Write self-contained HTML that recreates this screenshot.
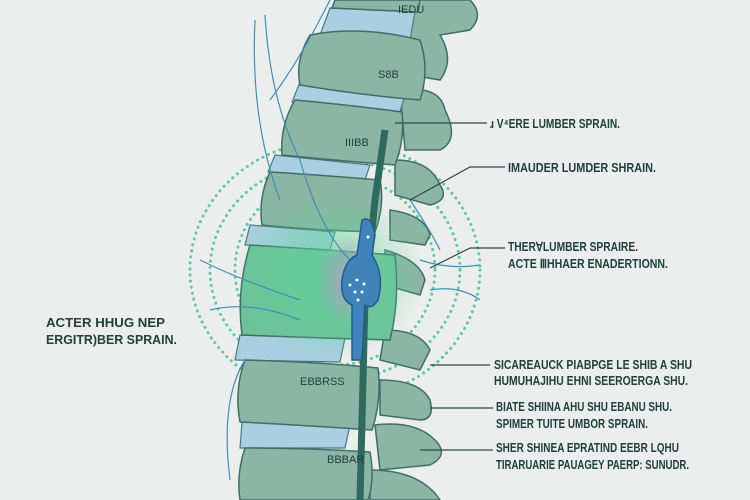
<!DOCTYPE html>
<html><head><style>
body{margin:0;background:#eceeed;}
svg{display:block;}
text{font-family:"Liberation Sans",sans-serif;font-size:12.5px;fill:#1f403c;font-weight:bold;}
</style></head><body>
<svg width="750" height="500" viewBox="0 0 750 500">
<rect width="750" height="500" fill="#eceeed"/>
<defs>
<radialGradient id="g" cx="0.5" cy="0.5" r="0.5"><stop offset="0" stop-color="#5fd39a" stop-opacity="0.8"/><stop offset="1" stop-color="#5fd39a" stop-opacity="0"/></radialGradient>
<radialGradient id="p" cx="0.5" cy="0.5" r="0.5"><stop offset="0" stop-color="#c98fd0" stop-opacity="0.8"/><stop offset="1" stop-color="#c98fd0" stop-opacity="0"/></radialGradient>
</defs>
<g fill="none" stroke="#5ec99a" stroke-width="3" stroke-dasharray="0.1 6" stroke-linecap="round">
<ellipse cx="335" cy="270" rx="125" ry="110"/>
<ellipse cx="335" cy="270" rx="100" ry="95"/>
<ellipse cx="335" cy="270" rx="145" ry="130"/>
</g>
<g fill="#8db5a5" stroke="#3f6e66" stroke-width="1.5">
<path d="M400 0 L470 0 Q485 15 470 30 L440 35 Q455 60 440 80 L410 75 Z"/>
<path d="M400 90 Q440 85 445 110 Q460 140 440 150 L405 150 Z"/>
<path d="M395 160 Q430 160 440 185 Q450 200 430 205 L395 195 Z"/>
<path d="M390 210 Q425 215 430 235 L425 245 L390 240 Z"/>
<path d="M385 250 Q420 260 425 280 L420 295 L385 285 Z"/>
<path d="M385 330 Q420 330 430 350 L420 370 L380 360 Z"/>
<path d="M380 380 Q420 380 430 400 Q435 420 420 420 L380 415 Z"/>
<path d="M375 425 Q415 420 435 440 Q450 455 430 465 L380 470 Z"/>
<path d="M370 470 Q420 470 440 500 L370 500 Z"/>
</g>
<g fill="#a9cfe0" stroke="#4b7a80" stroke-width="1.2">
<path d="M330 8 L415 12 L410 40 L320 35 Z"/>
<path d="M300 82 L405 95 L400 112 L292 102 Z"/>
<path d="M275 155 L370 165 L365 180 L268 172 Z"/>
<path d="M250 225 L335 232 L330 250 L245 245 Z"/>
<path d="M240 335 L345 338 L340 362 L235 360 Z"/>
<path d="M242 422 L350 425 L345 448 L240 448 Z"/>
</g>
<g fill="#8db5a5" stroke="#3f6e66" stroke-width="1.5">
<path d="M335 0 L420 0 L418 12 L332 8 Z"/>
<path d="M310 35 Q360 25 420 40 Q430 70 420 100 Q360 95 300 85 Q295 60 310 35 Z"/>
<path d="M295 100 Q350 105 402 112 Q405 140 395 165 Q330 160 282 155 Q280 125 295 100 Z"/>
<path d="M270 172 Q320 175 380 180 Q385 205 375 232 Q310 230 262 225 Q258 198 270 172 Z"/>
<path d="M250 245 Q330 250 395 255 Q400 300 390 340 Q320 338 242 335 Q236 290 250 245 Z" fill="#6ec29a"/>
<path d="M245 360 Q320 362 378 368 Q382 400 372 430 Q300 425 240 422 Q234 390 245 360 Z"/>
<path d="M245 448 Q310 448 370 452 Q375 480 368 500 L240 500 Q236 475 245 448 Z"/>
</g>
<ellipse cx="330" cy="275" rx="95" ry="85" fill="url(#g)"/>
<ellipse cx="350" cy="280" rx="35" ry="45" fill="url(#p)"/>
<path d="M385 130 L375 200 L365 300 L362 420 L360 500" stroke="#2e6b5e" stroke-width="7" fill="none"/>
<path d="M362 220 Q372 215 375 235 L372 255 Q385 275 378 300 Q372 310 365 305 L362 360 L352 360 L352 305 Q340 300 342 280 Q345 260 357 255 Z" fill="#3f83b8" stroke="#1f5c8c" stroke-width="1.5"/>
<g fill="#fff"><circle cx="350" cy="285" r="1.5"/><circle cx="357" cy="280" r="1.5"/><circle cx="364" cy="284" r="1.5"/><circle cx="355" cy="292" r="1.5"/><circle cx="362" cy="292" r="1.5"/><circle cx="358" cy="300" r="1.5"/><circle cx="368" cy="237" r="1.5"/></g>
<g fill="none" stroke="#3f8fb5" stroke-width="1.2">
<path d="M265 15 Q270 100 300 160 Q320 230 350 260"/>
<path d="M255 20 Q250 120 280 200"/>
<path d="M330 0 Q300 60 270 100"/>
<path d="M245 360 Q220 400 230 480"/>
<path d="M200 260 Q240 280 300 300"/>
<path d="M210 310 Q250 300 300 320"/>
<path d="M420 260 Q450 270 480 265"/>
<path d="M430 290 Q460 285 480 300"/>
<path d="M410 200 Q430 230 440 250"/>
</g>
<g>
<text x="378" y="78" style="font-weight:normal;font-size:11px">S8B</text>
<text x="345" y="146" style="font-weight:normal;font-size:11px">IIIBB</text>
<text x="300" y="385" style="font-weight:normal;font-size:11px">EBBRSS</text>
<text x="327" y="463" style="font-weight:normal;font-size:11px">BBBAR</text>
<text x="398" y="13" style="font-weight:normal;font-size:11px">IEDU</text>
</g>
<g stroke="#2b4a47" stroke-width="1.2" fill="none">
<path d="M395 123 L487 123"/>
<path d="M410 200 L470 167 L505 167"/>
<path d="M430 268 L470 248 L505 248"/>
<path d="M430 365 L490 365"/>
<path d="M430 408 L493 408"/>
<path d="M420 450 L493 450"/>
</g>
<g lengthAdjust="spacingAndGlyphs">
<text x="490" y="128" textLength="130" lengthAdjust="spacingAndGlyphs">ɹ V⁴ERE LUMBER SPRAIN.</text>
<text x="508" y="172" textLength="148" lengthAdjust="spacingAndGlyphs">IMAUDER LUMDER SHRAIN.</text>
<text x="508" y="251" textLength="130" lengthAdjust="spacingAndGlyphs">THERⱯLUMBER SPRAIRE.</text>
<text x="508" y="268" textLength="160" lengthAdjust="spacingAndGlyphs">ACTE ⅢHHAER ENADERTIONN.</text>
<text x="494" y="369" textLength="198" lengthAdjust="spacingAndGlyphs">SICAREAUCK PIABPGE LE SHIB A SHU</text>
<text x="494" y="385" textLength="194" lengthAdjust="spacingAndGlyphs">HUMUHAJIHU EHNI SEEROERGA SHU.</text>
<text x="496" y="411" textLength="176" lengthAdjust="spacingAndGlyphs">BIATE SHIINA AHU SHU EBANU SHU.</text>
<text x="496" y="428" textLength="152" lengthAdjust="spacingAndGlyphs">SPIMER TUITE UMBOR SPRAIN.</text>
<text x="496" y="452" textLength="183" lengthAdjust="spacingAndGlyphs">SHER SHINEA EPRATIND EEBR LQHU</text>
<text x="496" y="469" textLength="193" lengthAdjust="spacingAndGlyphs">TIRARUARIE PAUAGEY PAERP: SUNUDR.</text>
<text x="46" y="327" textLength="119" lengthAdjust="spacingAndGlyphs">ACTER HHUG NEP</text>
<text x="46" y="344" textLength="131" lengthAdjust="spacingAndGlyphs">ERGITR)BER SPRAIN.</text>
</g>
</svg>
</body></html>
